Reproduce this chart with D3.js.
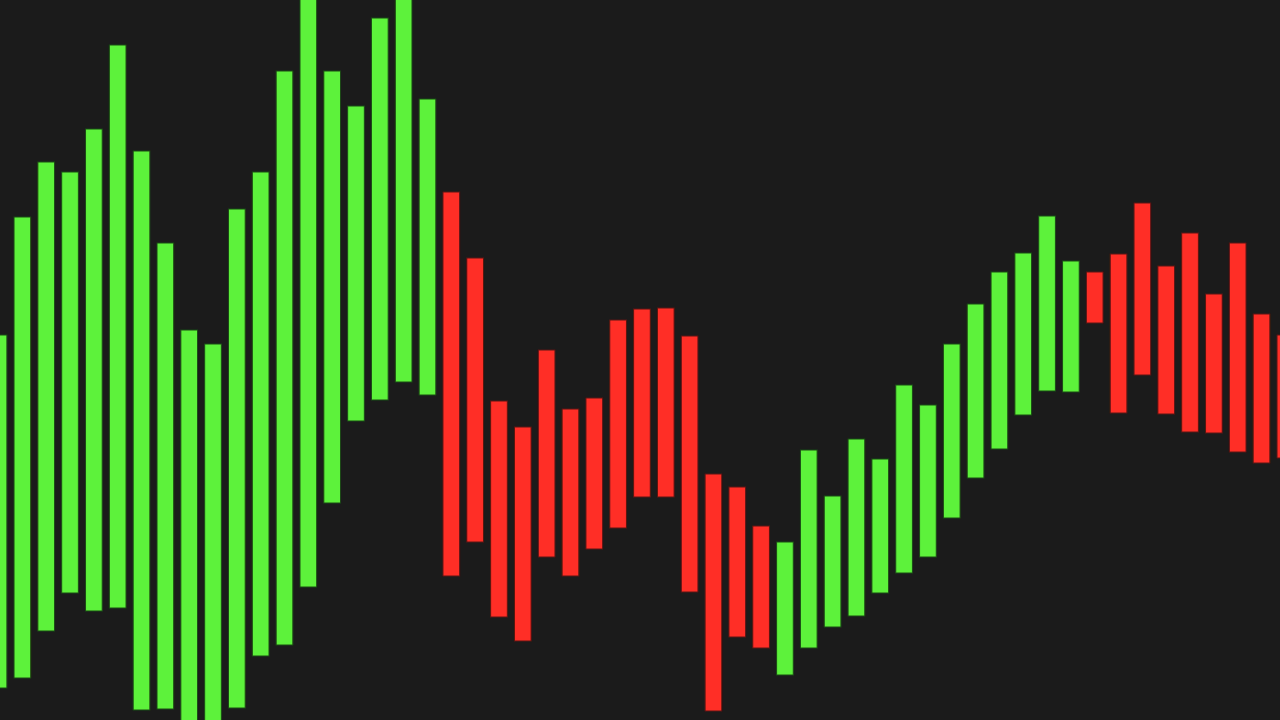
<!DOCTYPE html>
<html>
<head>
<meta charset="utf-8">
<script src="https://cdn.jsdelivr.net/npm/d3@7"></script>
<style>
  html, body { margin: 0; padding: 0; background: #1b1b1b; overflow: hidden; }
  svg { display: block; }
</style>
</head>
<body>
<svg id="chart" width="1280" height="720"></svg>
<script>
// Bar categories (session index)
const sessions = d3.range(55);
// High value of each bar
const highs = [38.5, 50.3, 55.8, 54.8, 59.1, 67.5, 56.9, 47.7, 39.0, 37.6,
               51.1, 54.8, 64.9, 73.0, 64.9, 61.4, 70.2, 73.0, 62.1, 52.8,
               46.2, 31.9, 29.3, 37.0, 31.1, 32.2, 40.0, 41.1, 41.2, 38.4,
               24.6, 23.3, 19.4, 17.8, 27.0, 22.4, 28.1, 26.1, 33.5, 31.5,
               37.6, 41.6, 44.8, 46.7, 50.4, 45.9, 44.8, 46.6, 51.7, 45.4,
               48.7, 42.6, 47.7, 40.6, 38.5];
// Low value of each bar
const lows  = [3.2, 4.2, 8.9, 12.7, 10.9, 11.2, 1.0, 1.1, -1.0, -1.0,
               1.2, 6.4, 7.5, 13.3, 21.7, 29.9, 32.0, 33.8, 32.5, 14.4,
               17.8, 10.3, 7.9, 16.3, 14.4, 17.1, 19.2, 22.3, 22.3, 12.8,
               0.9, 8.3, 7.2, 4.5, 7.2, 9.3, 10.4, 12.7, 14.7, 16.3,
               20.2, 24.2, 27.1, 30.5, 32.9, 32.8, 39.7, 30.7, 34.5, 30.6,
               28.8, 28.7, 26.8, 25.7, 26.2];
// Direction of each bar
const trend = ["up","up","up","up","up","up","up","up","up","up",
               "up","up","up","up","up","up","up","up","up","down",
               "down","down","down","down","down","down","down","down","down","down",
               "down","down","down","up","up","up","up","up","up","up",
               "up","up","up","up","up","up","down","down","down","down",
               "down","down","down","down","down"];

const W = 1280, H = 720;
const colors = { up: "#5df23b", down: "#ff2e28" };
const edges  = { up: "#1d4a14", down: "#5a1512" };

const data = sessions.map(i => ({ i, hi: highs[i], lo: lows[i], t: trend[i] }));

const svg = d3.select("#chart");
svg.append("rect").attr("width", W).attr("height", H).attr("fill", "#1b1b1b");

const x = d3.scaleBand()
  .domain(sessions)
  .range([-9.8, 1293.7])
  .paddingInner(0.3)
  .paddingOuter(0);

const y = d3.scaleLinear().domain([0, 72]).range([H, 0]);

const defs = svg.append("defs");
defs.append("filter").attr("id", "soft")
  .append("feGaussianBlur").attr("stdDeviation", 0.5);

svg.append("g")
  .attr("filter", "url(#soft)")
  .selectAll("rect")
  .data(data)
  .join("rect")
  .attr("x", d => x(d.i))
  .attr("width", x.bandwidth())
  .attr("y", d => y(d.hi))
  .attr("height", d => y(d.lo) - y(d.hi))
  .attr("fill", d => colors[d.t])
  .attr("stroke", d => edges[d.t])
  .attr("stroke-width", 1);
</script>
</body>
</html>
